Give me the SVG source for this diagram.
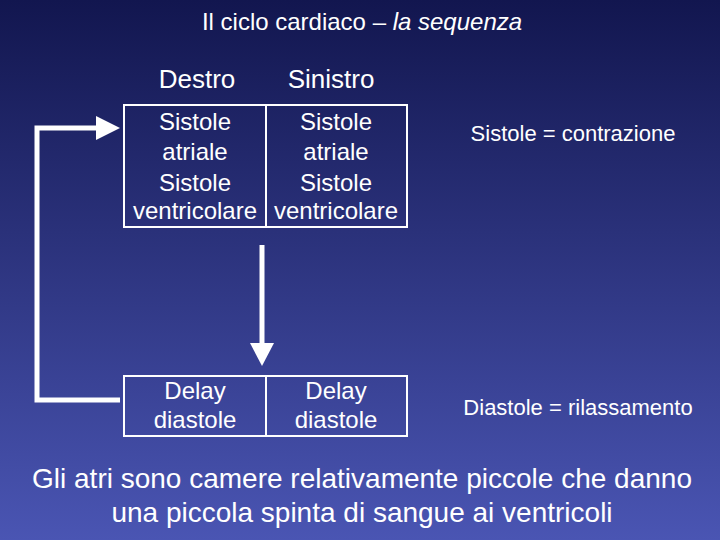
<svg xmlns="http://www.w3.org/2000/svg" width="720" height="540" viewBox="0 0 720 540">
<defs>
<linearGradient id="bg" x1="0" y1="0" x2="0" y2="1"><stop offset="0" stop-color="#12164f"/><stop offset="1" stop-color="#4a55b3"/></linearGradient>
<style>
text{font-family:"Liberation Sans",Arial,sans-serif;fill:#fff;text-anchor:middle}
.t{font-size:24px}.h{font-size:26px}.c{font-size:24px}.s{font-size:22px}.b{font-size:28px}
.box{fill:none;stroke:#fff;stroke-width:2}
.ln{fill:none;stroke:#fff;stroke-width:5}
</style>
</defs>
<rect width="720" height="540" fill="url(#bg)"/>
<text class="t" x="362" y="30">Il ciclo cardiaco – <tspan font-style="italic">la sequenza</tspan></text>
<text class="h" x="197" y="88">Destro</text>
<text class="h" x="331" y="88">Sinistro</text>
<g id="table-top">
<rect class="box" x="124" y="105" width="142" height="122"/>
<rect class="box" x="266" y="105" width="141" height="122"/>
<text class="c" x="195" y="130">Sistole</text><text class="c" x="195" y="160">atriale</text>
<text class="c" x="195" y="191">Sistole</text><text class="c" x="195" y="219">ventricolare</text>
<text class="c" x="336" y="130">Sistole</text><text class="c" x="336" y="160">atriale</text>
<text class="c" x="336" y="191">Sistole</text><text class="c" x="336" y="219">ventricolare</text>
</g>
<g id="table-bottom">
<rect class="box" x="124" y="376" width="142" height="60"/>
<rect class="box" x="266" y="376" width="141" height="60"/>
<text class="c" x="195" y="399">Delay</text><text class="c" x="195" y="428">diastole</text>
<text class="c" x="336" y="399">Delay</text><text class="c" x="336" y="428">diastole</text>
</g>
<g id="connectors">
<polyline class="ln" points="120,400 37,400 37,128 98,128"/>
<polygon fill="#fff" points="96,116 120,128 96,140"/>
<line class="ln" x1="262" y1="245" x2="262" y2="345"/>
<polygon fill="#fff" points="250,343 274,343 262,366"/>
</g>
<text class="s" x="573" y="141">Sistole = contrazione</text>
<text class="s" x="578" y="415">Diastole = rilassamento</text>
<text class="b" x="362" y="488">Gli atri sono camere relativamente piccole che danno</text>
<text class="b" x="362" y="522">una piccola spinta di sangue ai ventricoli</text>
</svg>
